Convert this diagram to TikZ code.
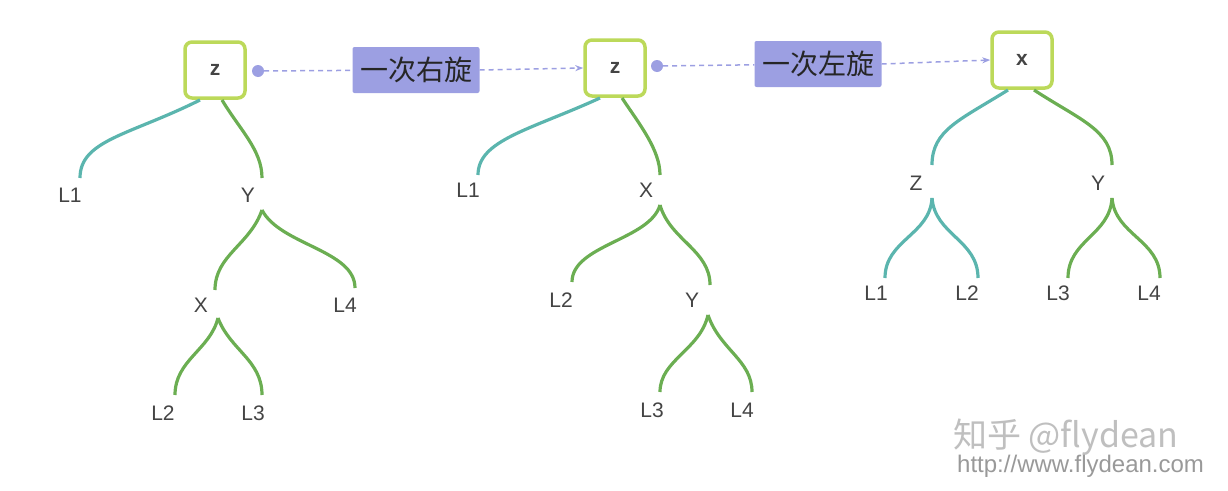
\documentclass[tikz,border=0pt]{standalone}
\usepackage{fontspec}
\setmainfont{Liberation Sans}
\newfontfamily\cjk{Noto Sans CJK SC}
\usetikzlibrary{arrows.meta}
\definecolor{teal1}{HTML}{5BB5AE}
\definecolor{grn}{HTML}{6BAE52}
\definecolor{boxc}{HTML}{BCD95A}
\definecolor{lab}{HTML}{9C9FE2}
\definecolor{txt}{HTML}{444444}
\begin{document}
\begin{tikzpicture}[x=1pt,y=-1pt,
  rootbox/.style={draw=boxc,line width=3.5pt,rounded corners=7pt,fill=white,minimum width=60pt,minimum height=56pt,font=\bfseries\fontsize{21}{21}\selectfont,text=txt},
  lbl/.style={font=\fontsize{21}{21}\selectfont,text=txt,inner sep=0pt},
  tl/.style={teal1,line width=3.2pt},
  gl/.style={grn,line width=3.2pt},
  tag/.style={fill=lab,rounded corners=2pt,minimum width=127pt,minimum height=46pt,font=\cjk\fontsize{28}{28}\selectfont,text=black!85,inner sep=0pt},
  dl/.style={lab,line width=1.5pt,dash pattern=on 5pt off 4pt},
  dot/.style={circle,fill=lab,minimum size=12pt,inner sep=0pt}]
\useasboundingbox (0,0) rectangle (1228,490);
% tree 1
\node[rootbox] (z1) at (215,70) {z};
\node[lbl] (l1a) at (70,195) {L1};
\node[lbl] (y1) at (248,195) {Y};
\node[lbl] (x1) at (201,305) {X};
\node[lbl] (l4a) at (345,305) {L4};
\node[lbl] (l2a) at (163,413) {L2};
\node[lbl] (l3a) at (253,413) {L3};
\draw[tl] (200,100) .. controls (130,135) and (80,140) .. (80,178);
\draw[gl] (222,100) .. controls (240,130) and (262,150) .. (262,178);
\draw[gl] (262,210) .. controls (250,245) and (215,255) .. (215,290);
\draw[gl] (262,210) .. controls (280,245) and (355,250) .. (355,288);
\draw[gl] (218,318) .. controls (210,350) and (175,360) .. (175,395);
\draw[gl] (218,318) .. controls (230,350) and (262,360) .. (262,395);
% tree 2
\node[rootbox] (z2) at (615,68) {z};
\node[lbl] (l1b) at (468,190) {L1};
\node[lbl] (x2) at (646,190) {X};
\node[lbl] (l2b) at (561,300) {L2};
\node[lbl] (y2) at (692,300) {Y};
\node[lbl] (l3b) at (652,410) {L3};
\node[lbl] (l4b) at (742,410) {L4};
\draw[tl] (600,98) .. controls (530,130) and (478,140) .. (478,175);
\draw[gl] (622,98) .. controls (640,125) and (660,150) .. (660,175);
\draw[gl] (660,205) .. controls (650,240) and (572,245) .. (572,282);
\draw[gl] (660,205) .. controls (670,240) and (710,250) .. (710,285);
\draw[gl] (708,315) .. controls (700,350) and (660,360) .. (660,392);
\draw[gl] (708,315) .. controls (720,350) and (752,360) .. (752,392);
% tree 3
\node[rootbox] (x3) at (1022,60) {x};
\node[lbl] (z3) at (916,183) {Z};
\node[lbl] (y3) at (1098,183) {Y};
\node[lbl] (l1c) at (876,293) {L1};
\node[lbl] (l2c) at (967,293) {L2};
\node[lbl] (l3c) at (1058,293) {L3};
\node[lbl] (l4c) at (1149,293) {L4};
\draw[tl] (1008,90) .. controls (960,120) and (932,130) .. (932,165);
\draw[gl] (1034,90) .. controls (1080,120) and (1112,130) .. (1112,165);
\draw[tl] (932,198) .. controls (930,235) and (885,240) .. (885,278);
\draw[tl] (932,198) .. controls (935,235) and (978,240) .. (978,278);
\draw[gl] (1112,198) .. controls (1110,235) and (1068,240) .. (1068,278);
\draw[gl] (1112,198) .. controls (1115,235) and (1160,240) .. (1160,278);
% rotation labels
\node[dot] (d1) at (258,71) {};
\node[tag] (t1) at (416,70) {一次右旋};
\draw[dl] (d1) -- (t1);
\draw[dl,-{Stealth[length=8pt]}] (t1.east) -- (z2.west);
\node[dot] (d2) at (657,66) {};
\node[tag] (t2) at (818,64) {一次左旋};
\draw[dl] (d2) -- (t2);
\draw[dl,-{Stealth[length=8pt]}] (t2.east) -- (x3.west);
% watermark
\node[font=\cjk\fontsize{34}{34}\selectfont,text=black!25,anchor=west,inner sep=0pt] (wm1) at (953,437) {知乎 @flydean};
\node[font=\fontsize{24}{24}\selectfont,text=black!40,anchor=west,inner sep=0pt] (wm2) at (957,466) {http://www.flydean.com};
\end{tikzpicture}
\end{document}
